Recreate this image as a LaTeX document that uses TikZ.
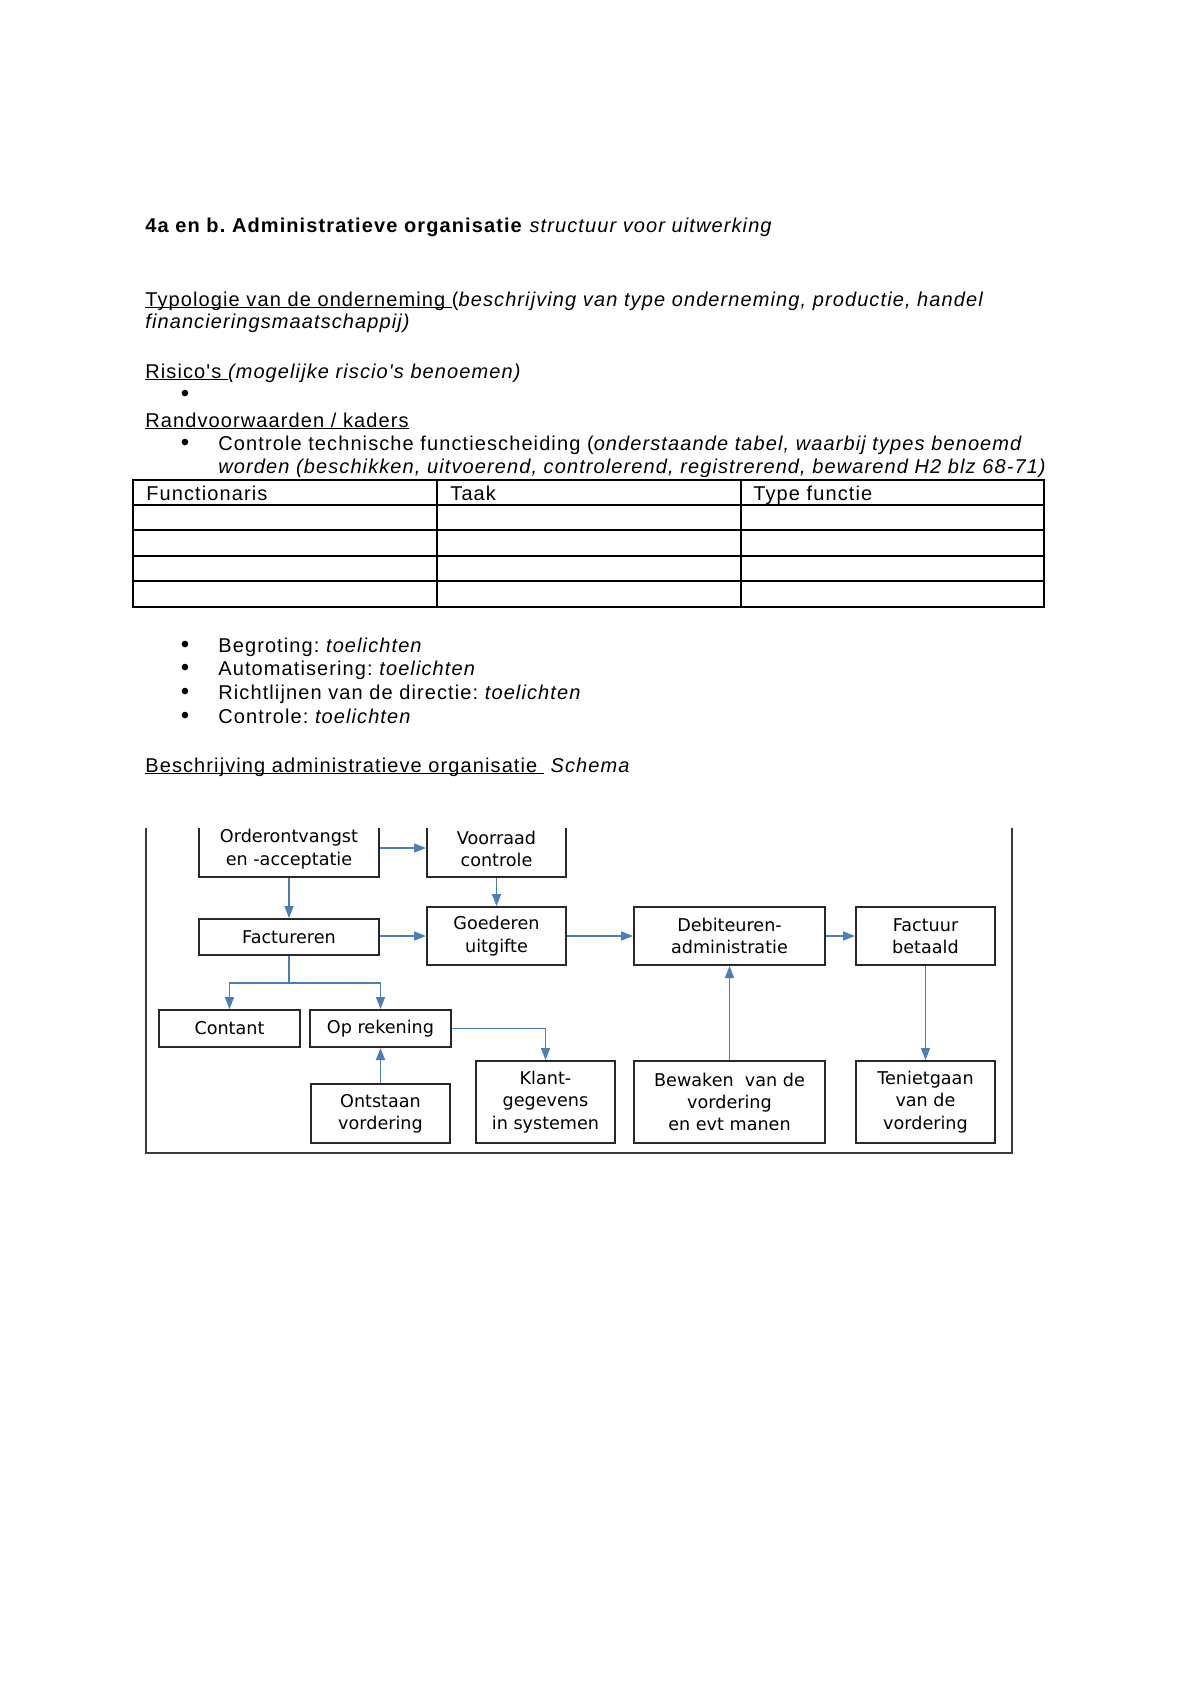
\documentclass[tikz,border=0pt]{standalone}
\usepackage{fontspec}
\setmainfont[LetterSpace=5.5,Ligatures=TeXOff]{Liberation Sans}
\newfontfamily\diafont{DejaVu Sans}
\usetikzlibrary{arrows.meta}
\definecolor{arrowblue}{RGB}{74,126,187}
\definecolor{boxline}{RGB}{40,40,40}
\definecolor{framec}{RGB}{60,60,60}
\newcommand\wul[1]{\setbox0\hbox{#1}\rlap{\rule[-1.1pt]{\wd0}{0.55pt}}\box0}
\frenchspacing
\begin{document}
\begin{tikzpicture}[x=0.5pt,y=-0.5pt,
  txt/.style={anchor=base west,inner sep=0pt,font=\fontsize{10pt}{12pt}\selectfont},
  bul/.style={anchor=base,inner sep=0pt,font=\fontsize{12pt}{12pt}\selectfont},
  box/.style={draw=boxline,line width=1pt,inner sep=0pt,align=center,
    font=\diafont\fontsize{8.8pt}{11.2pt}\selectfont},
  arr/.style={draw=arrowblue,line width=0.8pt,-{Triangle[length=6pt,width=4.5pt]}},
  lin/.style={draw=arrowblue,line width=0.8pt}]
\useasboundingbox[fill=white] (0,0) rectangle (1200,1698);

% ---- text ----
\node[txt] (title) at (145,232) {\textbf{4a en b. Administratieve organisatie} \textit{structuur voor uitwerking}};
\node[txt] (typ) at (145,306) {\wul{Typologie van de onderneming }(\textit{beschrijving van type onderneming, productie, handel}};
\node[txt] (fin) at (145,328) {\textit{financieringsmaatschappij)}};
\node[txt] (ris) at (145,378) {\wul{Risico's }\textit{(mogelijke riscio's benoemen)}};
\node[bul] (b0) at (185,401) {•};
\node[txt] (rand) at (145,427) {\wul{Randvoorwaarden / kaders}};
\node[bul] (b1) at (185,450) {•};
\node[txt] (ctf) at (218,450) {Controle technische functiescheiding (\textit{onderstaande tabel, waarbij types benoemd}};
\node[txt] (wor) at (218,473) {\textit{worden (beschikken, uitvoerend, controlerend, registrerend, bewarend H2 blz 68-71)}};

% ---- table ----
\draw[line width=1.3pt] (133,480) rectangle (1044,607);
\foreach \yy in {505,530,556,581} \draw[line width=1.3pt] (133,\yy) -- (1044,\yy);
\foreach \xx in {437,741} \draw[line width=1.3pt] (\xx,480) -- (\xx,607);
\node[txt] (h1) at (146,500) {Functionaris};
\node[txt] (h2) at (450,500) {Taak};
\node[txt] (h3) at (753,500) {Type functie};

% ---- bullets ----
\node[bul] (b2) at (185,652) {•};
\node[txt] (l2) at (218,652) {Begroting: \textit{toelichten}};
\node[bul] (b3) at (185,675) {•};
\node[txt] (l3) at (218,675) {Automatisering: \textit{toelichten}};
\node[bul] (b4) at (185,699) {•};
\node[txt] (l4) at (218,699) {Richtlijnen van de directie: \textit{toelichten}};
\node[bul] (b5) at (185,723) {•};
\node[txt] (l5) at (218,723) {Controle: \textit{toelichten}};
\node[txt] (besch) at (145,772) {\wul{Beschrijving administratieve organisatie\ }\ \textit{Schema}};

% ---- diagram ----
\begin{scope}
\clip (130,828) rectangle (1030,1170);
\draw[framec,line width=1pt] (146,828) -- (146,1153) -- (1012,1153) -- (1012,828);
\node[box,minimum width=90pt,minimum height=28pt] (ord) at (289,849) {Orderontvangst\\en -acceptatie};
\node[box,minimum width=69.5pt,minimum height=28pt] (voor) at (496.5,849) {Voorraad\\controle};
\node[box,minimum width=90pt,minimum height=18pt] (fact) at (289,937) {Factureren};
\node[box,minimum width=69.5pt,minimum height=29pt] (goed) at (496.5,936) {Goederen\\uitgifte};
\node[box,minimum width=95.5pt,minimum height=29pt] (deb) at (729.5,936) {Debiteuren-\\administratie};
\node[box,minimum width=69.5pt,minimum height=29pt] (fbet) at (925.5,936) {Factuur\\betaald};
\node[box,minimum width=70.5pt,minimum height=18.5pt] (cont) at (229.5,1028.5) {Contant};
\node[box,minimum width=70.5pt,minimum height=18.5pt] (oprek) at (380.5,1028.5) {Op rekening};
\node[box,minimum width=69.5pt,minimum height=29.5pt] (ontst) at (380.5,1113.5) {Ontstaan\\vordering};
\node[box,minimum width=69.5pt,minimum height=41pt] (klant) at (545.5,1102) {Klant-\\gegevens\\in systemen};
\node[box,minimum width=95.5pt,minimum height=41pt] (bew) at (729.5,1102) {Bewaken~ van de\\vordering\\en evt manen};
\node[box,minimum width=69.5pt,minimum height=41pt] (ten) at (925.5,1102) {Tenietgaan\\van de\\vordering};

\coordinate (split) at (fact.south |- 0,983);
\draw[arr] (ord.east |- 0,848) -- (voor.west |- 0,848);
\draw[arr] (ord.south) -- (fact.north);
\draw[arr] (voor.south) -- (goed.north);
\draw[arr] (fact.east |- 0,936) -- (goed.west);
\draw[arr] (goed.east) -- (deb.west);
\draw[arr] (deb.east) -- (fbet.west);
\draw[lin] (fact.south) -- (split);
\draw[arr] (split) -| (cont.north);
\draw[arr] (split) -| (oprek.north);
\draw[arr] (ontst.north) -- (oprek.south);
\draw[arr] (oprek.east) -| (klant.north);
\draw[arr] (bew.north) -- (deb.south);
\draw[arr] (fbet.south) -- (ten.north);
\end{scope}
\end{tikzpicture}
\end{document}
